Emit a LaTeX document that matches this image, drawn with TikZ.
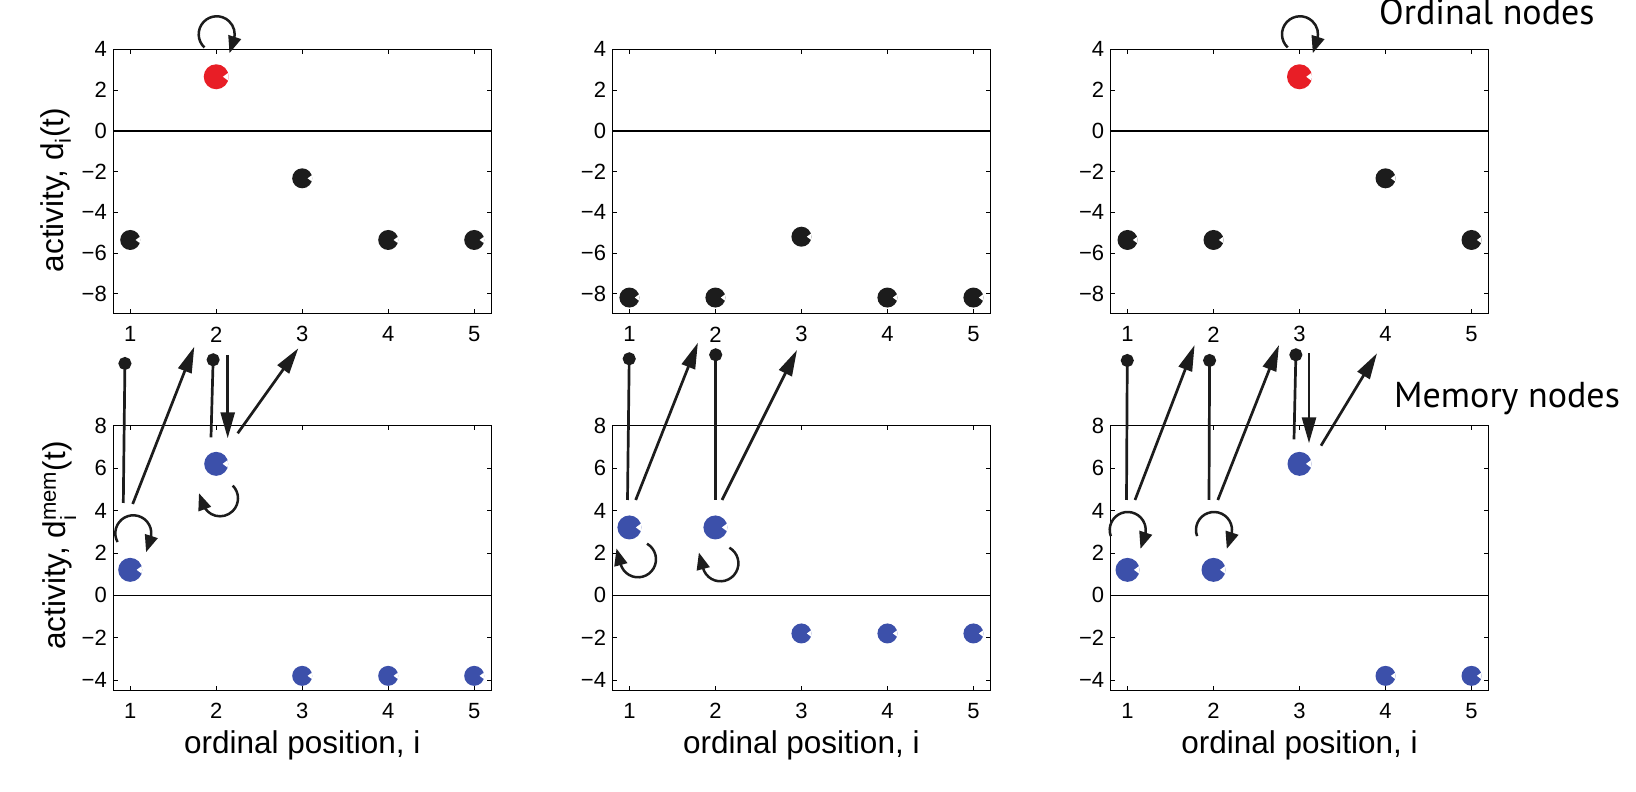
\documentclass[tikz,border=0pt]{standalone}
\usepackage{amsmath}
\usepackage{fontspec}
\setmainfont{Liberation Sans}
\newfontfamily\notefont{PT Sans}
\usetikzlibrary{arrows.meta}

\definecolor{hotred}{RGB}{232,30,38}
\definecolor{memblue}{RGB}{60,80,170}
\definecolor{coldblack}{RGB}{28,28,28}

\tikzset{
  pac/.style={circle, inner sep=0pt, minimum size=#1,
    path picture={\fill[white] ([xshift=0.27*#1]path picture bounding box.center)
      -- ++(0.4*#1,0.3*#1) -- ++(0,-0.6*#1) -- cycle;}},
  hot/.style={pac=25pt, fill=hotred},
  cold/.style={pac=20pt, fill=coldblack},
  memhi/.style={pac=24pt, fill=memblue},
  memlo/.style={pac=20pt, fill=memblue},
  ticklabel/.style={font=\fontsize{22}{26}\selectfont, inner sep=0pt},
  axislabel/.style={font=\fontsize{31.5}{38}\selectfont, inner sep=0pt},
  notelabel/.style={font=\notefont\fontsize{36}{43}\selectfont, inner sep=0pt, anchor=base west},
  inh/.style={line width=2.7pt, coldblack, -{Circle[length=13pt]}},
  exc/.style={line width=2.7pt, coldblack, -{Triangle[length=26pt,width=14pt]}},
  selfloop/.style={line width=2.5pt, coldblack, -{Triangle[length=17pt,width=13pt]}},
}

\begin{document}
\begin{tikzpicture}[x=1pt,y=1pt]
\useasboundingbox (0,0) rectangle (1636,792);

% ordinal nodes, top row
\foreach \p/\sx/\vals in {
  a/44.2/{-5.37/cold,2.65/hot,-2.34/cold,-5.37/cold,-5.37/cold},
  b/543.4/{-8.2/cold,-8.2/cold,-5.21/cold,-8.2/cold,-8.2/cold},
  c/1041.5/{-5.37/cold,-5.37/cold,2.65/hot,-2.34/cold,-5.37/cold}}{
\begin{scope}[shift={(\sx pt,661.3pt)},x=86pt,y=20.35pt]
\draw[line width=1pt] (0.8,-9) rectangle (5.2,4);
\draw[line width=2.3pt] (0.8,0) -- (5.2,0);
\foreach \x in {1,...,5}{
  \draw (\x,-9) -- ++(0,4.5pt);
  \draw (\x,4) -- ++(0,-4.5pt);
  \node[ticklabel] at ([yshift=-20.5pt]\x,-9) {\x};
}
\foreach \y/\t in {-8/−8,-6/−6,-4/−4,-2/−2,0/0,2/2,4/4}{
  \draw (0.8,\y) -- ++(4.5pt,0);
  \draw (5.2,\y) -- ++(-4.5pt,0);
  \node[ticklabel,anchor=east] at ([xshift=-6pt]0.8,\y) {\t};
}
\foreach \v/\s [count=\i] in \vals {\node[\s] (o\p\i) at (\i,\v) {};}
\end{scope}
}

% memory nodes, bottom row
\foreach \p/\sx/\vals in {
  a/44.2/{1.2/memhi,6.2/memhi,-3.8/memlo,-3.8/memlo,-3.8/memlo},
  b/543.4/{3.2/memhi,3.2/memhi,-1.8/memlo,-1.8/memlo,-1.8/memlo},
  c/1041.5/{1.2/memhi,1.2/memhi,6.2/memhi,-3.8/memlo,-3.8/memlo}}{
\begin{scope}[shift={(\sx pt,196.7pt)},x=86pt,y=21.2pt]
\draw[line width=1pt] (0.8,-4.5) rectangle (5.2,8);
\draw[line width=1pt] (0.8,0) -- (5.2,0);
\foreach \x in {1,...,5}{
  \draw (\x,-4.5) -- ++(0,4.5pt);
  \draw (\x,8) -- ++(0,-4.5pt);
  \node[ticklabel] at ([yshift=-20.5pt]\x,-4.5) {\x};
}
\foreach \y/\t in {-4/−4,-2/−2,0/0,2/2,4/4,6/6,8/8}{
  \draw (0.8,\y) -- ++(4.5pt,0);
  \draw (5.2,\y) -- ++(-4.5pt,0);
  \node[ticklabel,anchor=east] at ([xshift=-6pt]0.8,\y) {\t};
}
\foreach \v/\s [count=\i] in \vals {\node[\s] (m\p\i) at (\i,\v) {};}
\node[axislabel,anchor=base] (xlab\p) at ([yshift=-62.6pt]3,-4.5) {ordinal position, i};
\end{scope}
}

\node[axislabel,rotate=90,anchor=base] (ylabord) at (63.5,602) {activity, d$_{\text{i}}$(t)};
\node[axislabel,rotate=90,anchor=base] (ylabmem) at (65,246.5) {activity, d$_{\text{i}}^{\text{mem}}$(t)};
\node[notelabel] (ordnote) at (1379,767) {Ordinal nodes};
\node[notelabel] (memnote) at (1394,384.7) {Memory nodes};

% connections, left
\coordinate (ai1s) at (123.3,289);  \coordinate (ai1t) at (125,435);
\coordinate (ae1s) at (132.7,288);  \coordinate (ae1t) at (194.3,445.3);
\coordinate (ai2s) at (211,354.7);  \coordinate (ai2t) at (213.3,438.7);
\coordinate (ad2s) at (227.7,437);  \coordinate (ad2t) at (227.7,353.7);
\coordinate (ae2s) at (237.7,358.7); \coordinate (ae2t) at (298.3,443.7);
\draw[inh] (ai1s) -- (ai1t);
\draw[exc] (ae1s) -- (ae1t);
\draw[inh] (ai2s) -- (ai2t);
\draw[exc] (ad2s) -- (ad2t);
\draw[exc] (ae2s) -- (ae2t);
\coordinate (aloop) at (216.7,757.7);
\coordinate (aloop1) at (133.3,258.7);
\coordinate (aloop2) at (220,293.7);
\draw[selfloop] ([shift={(227:18)}]aloop) arc[start angle=227,end angle=-18,radius=18] -- ++(252:14);
\draw[selfloop] ([shift={(209:18)}]aloop1) arc[start angle=209,end angle=-18,radius=18] -- ++(252:14);
\draw[selfloop] ([shift={(45:18)}]aloop2) arc[start angle=45,end angle=-160,radius=18] -- ++(110:12);

% connections, middle
\coordinate (bi1s) at (627.5,292);  \coordinate (bi1t) at (629.3,439.7);
\coordinate (be1s) at (635.7,292);  \coordinate (be1t) at (697.9,449.3);
\coordinate (bi2s) at (715.7,292);  \coordinate (bi2t) at (715.7,443.7);
\coordinate (be2s) at (722,292);    \coordinate (be2t) at (797,442);
\draw[inh] (bi1s) -- (bi1t);
\draw[exc] (be1s) -- (be1t);
\draw[inh] (bi2s) -- (bi2t);
\draw[exc] (be2s) -- (be2t);
\coordinate (bloop1) at (638,232.7);
\coordinate (bloop2) at (720.4,228.7);
\draw[selfloop] ([shift={(60:18)}]bloop1) arc[start angle=60,end angle=-165,radius=18] -- ++(105:16);
\draw[selfloop] ([shift={(60:18)}]bloop2) arc[start angle=60,end angle=-165,radius=18] -- ++(105:16);

% connections, right
\coordinate (ci1s) at (1126.5,292); \coordinate (ci1t) at (1127.3,438);
\coordinate (ce1s) at (1135,292);   \coordinate (ce1t) at (1194.6,447);
\coordinate (ci2s) at (1209,292);   \coordinate (ci2t) at (1209.6,438);
\coordinate (ce2s) at (1217.8,292); \coordinate (ce2t) at (1279,447);
\coordinate (ci3s) at (1294,352.7); \coordinate (ci3t) at (1296,443.7);
\coordinate (cd3s) at (1309,438.7); \coordinate (cd3t) at (1309,348.7);
\coordinate (ce3s) at (1321,346.3); \coordinate (ce3t) at (1377,438.7);
\draw[inh] (ci1s) -- (ci1t);
\draw[exc] (ce1s) -- (ce1t);
\draw[inh] (ci2s) -- (ci2t);
\draw[exc] (ce2s) -- (ce2t);
\draw[inh] (ci3s) -- (ci3t);
\draw[exc] (cd3s) -- (cd3t);
\draw[exc] (ce3s) -- (ce3t);
\coordinate (cloop) at (1300,757.7);
\coordinate (cloop1) at (1127.7,262);
\coordinate (cloop2) at (1214,262);
\draw[selfloop] ([shift={(227:18)}]cloop) arc[start angle=227,end angle=-18,radius=18] -- ++(252:14);
\draw[selfloop] ([shift={(200:18)}]cloop1) arc[start angle=200,end angle=-18,radius=18] -- ++(252:14);
\draw[selfloop] ([shift={(200:18)}]cloop2) arc[start angle=200,end angle=-18,radius=18] -- ++(252:14);
\end{tikzpicture}
\end{document}
